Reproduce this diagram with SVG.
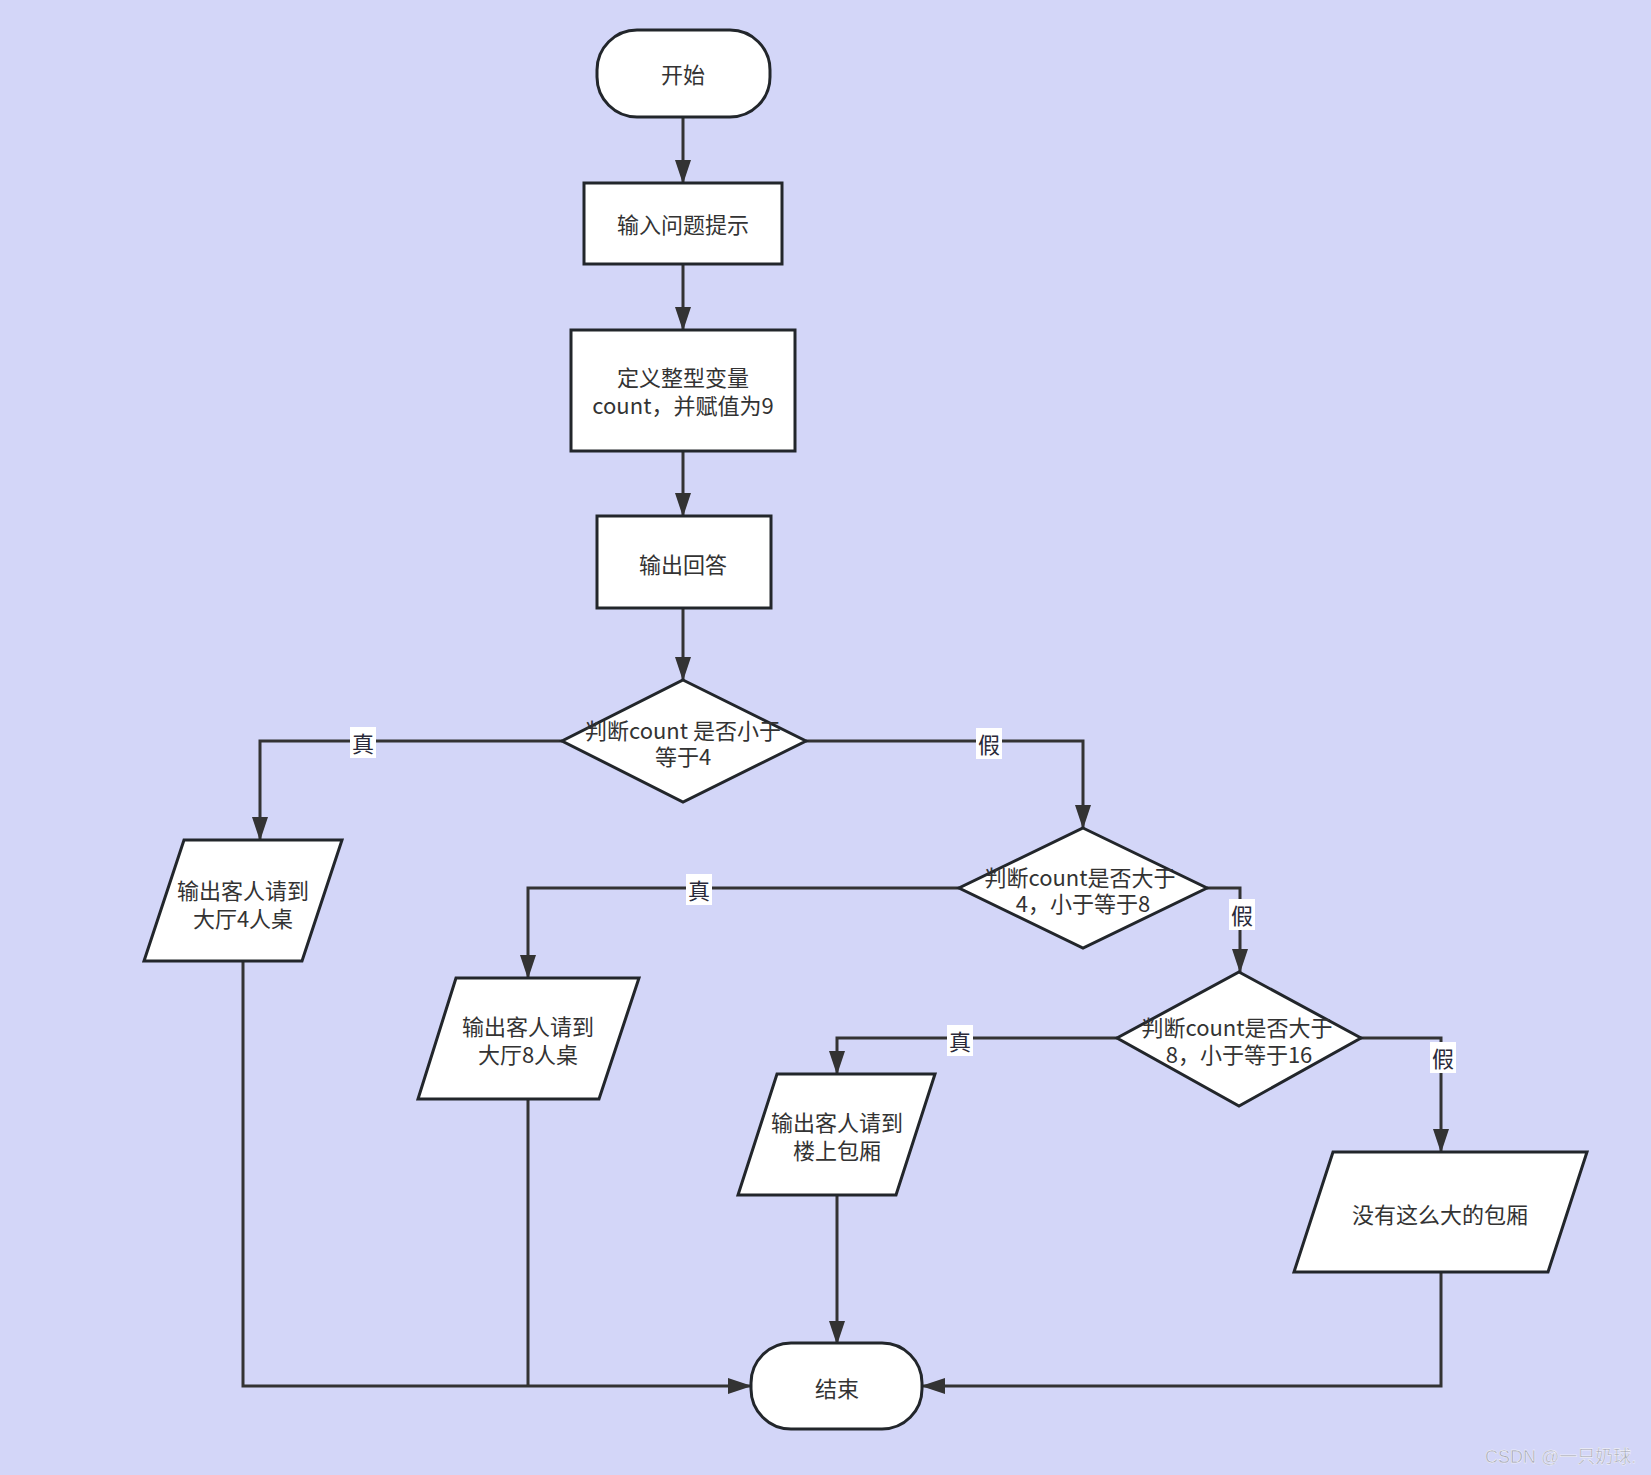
<svg xmlns="http://www.w3.org/2000/svg" width="1651" height="1475" viewBox="0 0 1651 1475">
<defs>
<style>
.node{fill:#ffffff;stroke:#22262b;stroke-width:3;}
.t{font-family:"Noto Sans CJK SC","Microsoft YaHei",sans-serif;font-size:22px;fill:#333333;text-anchor:middle;dominant-baseline:central;}
.conn{fill:none;stroke:#333333;stroke-width:3;}
.lb{fill:#ffffff;}
.lt{font-family:"Noto Sans CJK SC",sans-serif;font-size:22px;fill:#2a2a3a;text-anchor:middle;dominant-baseline:central;}
.wm{font-family:"Liberation Sans","Noto Sans CJK SC",sans-serif;font-size:18px;fill:#a4a6b6;stroke:#ffffff;stroke-width:0.4;}
</style>
<marker id="arr" markerUnits="userSpaceOnUse" markerWidth="24" markerHeight="16" refX="23" refY="8" orient="auto">
<path d="M0,0 L24,8 L0,16 z" fill="#333333"/>
</marker>
</defs>
<rect x="0" y="0" width="1651" height="1475" fill="#d3d6f8"/>

<g id="connectors">
<path class="conn" d="M683,117 V183" marker-end="url(#arr)"/>
<path class="conn" d="M683,264 V330" marker-end="url(#arr)"/>
<path class="conn" d="M683,451 V516" marker-end="url(#arr)"/>
<path class="conn" d="M683,608 V680" marker-end="url(#arr)"/>
<path class="conn" d="M562,741 H260 V840" marker-end="url(#arr)"/>
<path class="conn" d="M806,741 H1083 V828" marker-end="url(#arr)"/>
<path class="conn" d="M959,888 H528 V978" marker-end="url(#arr)"/>
<path class="conn" d="M1207,888 H1240 V972" marker-end="url(#arr)"/>
<path class="conn" d="M1117,1038 H837 V1074" marker-end="url(#arr)"/>
<path class="conn" d="M1360,1038 H1441 V1152" marker-end="url(#arr)"/>
<path class="conn" d="M243,961 V1386 H751" marker-end="url(#arr)"/>
<path class="conn" d="M528,1099 V1386"/>
<path class="conn" d="M837,1195 V1344" marker-end="url(#arr)"/>
<path class="conn" d="M1441,1273 V1386 H922" marker-end="url(#arr)"/>
<g id="labels">
<rect class="lb" x="350" y="727" width="26" height="31"/><text class="lt" x="363" y="742">真</text>
<rect class="lb" x="976" y="728" width="26" height="31"/><text class="lt" x="989" y="743">假</text>
<rect class="lb" x="686" y="874" width="26" height="31"/><text class="lt" x="699" y="889">真</text>
<rect class="lb" x="1229" y="899" width="26" height="31"/><text class="lt" x="1242" y="914">假</text>
<rect class="lb" x="947" y="1025" width="26" height="31"/><text class="lt" x="960" y="1040">真</text>
<rect class="lb" x="1430" y="1042" width="26" height="31"/><text class="lt" x="1443" y="1057">假</text>
</g>
</g>

<g id="start">
<rect class="node" x="597" y="30" width="173" height="87" rx="40" ry="40"/>
<text class="t" x="683" y="73">开始</text>
</g>
<g id="input">
<rect class="node" x="584" y="183" width="198" height="81"/>
<text class="t" x="683" y="223">输入问题提示</text>
</g>
<g id="define">
<rect class="node" x="571" y="330" width="224" height="121"/>
<text class="t" x="683" y="376"><tspan x="683" y="376">定义整型变量</tspan><tspan x="683" y="404">count，并赋值为9</tspan></text>
</g>
<g id="output">
<rect class="node" x="597" y="516" width="174" height="92"/>
<text class="t" x="683" y="563">输出回答</text>
</g>
<g id="decision1">
<polygon class="node" points="683,680 806,741 683,802 562,741"/>
<text class="t" x="683" y="729"><tspan x="683" y="729">判断count 是否小于</tspan><tspan x="683" y="755">等于4</tspan></text>
</g>
<g id="decision2">
<polygon class="node" points="1083,828 1207,888 1083,948 959,888"/>
<text class="t" x="1080" y="876"><tspan x="1080" y="876">判断count是否大于</tspan><tspan x="1083" y="902">4，小于等于8</tspan></text>
</g>
<g id="decision3">
<polygon class="node" points="1239,972 1361,1038 1239,1106 1117,1038"/>
<text class="t" x="1237" y="1026"><tspan x="1237" y="1026">判断count是否大于</tspan><tspan x="1239" y="1053">8，小于等于16</tspan></text>
</g>
<g id="out4">
<polygon class="node" points="184,840 342,840 302,961 144,961"/>
<text class="t" x="243" y="889"><tspan x="243" y="889">输出客人请到</tspan><tspan x="243" y="917">大厅4人桌</tspan></text>
</g>
<g id="out8">
<polygon class="node" points="456,978 639,978 599,1099 418,1099"/>
<text class="t" x="528" y="1025"><tspan x="528" y="1025">输出客人请到</tspan><tspan x="528" y="1053">大厅8人桌</tspan></text>
</g>
<g id="outroom">
<polygon class="node" points="777,1074 935,1074 896,1195 738,1195"/>
<text class="t" x="837" y="1121"><tspan x="837" y="1121">输出客人请到</tspan><tspan x="837" y="1149">楼上包厢</tspan></text>
</g>
<g id="outnone">
<polygon class="node" points="1333,1152 1587,1152 1548,1272 1294,1272"/>
<text class="t" x="1440" y="1213">没有这么大的包厢</text>
</g>
<g id="end">
<rect class="node" x="751" y="1343" width="171" height="86" rx="40" ry="40"/>
<text class="t" x="837" y="1387">结束</text>
</g>
<text class="wm" x="1485" y="1463">CSDN @一只奶球.</text>
</svg>
